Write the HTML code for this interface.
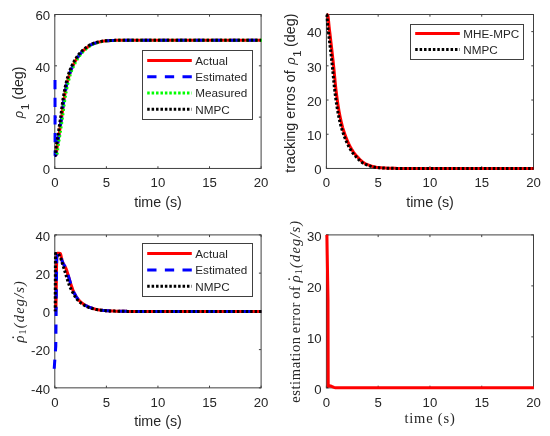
<!DOCTYPE html>
<html><head><meta charset="utf-8"><title>figure</title>
<style>html,body{margin:0;padding:0;background:#fff}svg{display:block}</style></head>
<body>
<svg width="550" height="436" viewBox="0 0 550 436" font-family='"Liberation Sans", sans-serif' fill="#262626">
<rect width="550" height="436" fill="#fff"/>
<path d="M54.8 168.45 v-2.2 M54.8 14.5 v2.2 M106.38 168.45 v-2.2 M106.38 14.5 v2.2 M157.95 168.45 v-2.2 M157.95 14.5 v2.2 M209.53 168.45 v-2.2 M209.53 14.5 v2.2 M261.1 168.45 v-2.2 M261.1 14.5 v2.2 M54.8 168.45 h2.2 M261.1 168.45 h-2.2 M54.8 117.13 h2.2 M261.1 117.13 h-2.2 M54.8 65.82 h2.2 M261.1 65.82 h-2.2 M54.8 14.5 h2.2 M261.1 14.5 h-2.2 " stroke="#404040" stroke-width="1" fill="none"/>
<rect x="54.8" y="14.5" width="206.3" height="153.95" fill="none" stroke="#404040" stroke-width="1"/>
<path d="M54.8 155.62 L54.9 155.61 L55.01 155.6 L55.11 155.57 L55.21 155.53 L55.32 155.48 L55.42 155.42 L55.52 155.35 L55.63 155.28 L55.73 155.19 L55.83 155.11 L55.93 154.95 L56.04 154.65 L56.14 154.24 L56.24 153.72 L56.35 153.11 L56.45 152.42 L56.55 151.68 L56.66 150.89 L56.76 150.07 L56.86 149.24 L56.97 148.41 L57.07 147.59 L57.17 146.79 L57.28 146.05 L57.38 145.36 L57.48 144.7 L57.59 144.05 L57.69 143.4 L57.79 142.74 L57.89 142.09 L58.1 140.78 L58.31 139.47 L58.51 138.16 L58.72 136.84 L58.93 135.52 L59.13 134.19 L59.34 132.85 L59.54 131.5 L59.75 130.15 L59.96 128.8 L60.16 127.44 L60.37 126.08 L60.58 124.72 L60.78 123.34 L60.99 121.94 L61.2 120.53 L61.4 119.1 L61.61 117.65 L61.81 116.14 L62.02 114.58 L62.23 112.97 L62.43 111.33 L62.64 109.67 L62.85 108.01 L63.05 106.36 L63.26 104.75 L63.46 103.18 L63.67 101.68 L63.88 100.25 L64.08 98.92 L64.29 97.64 L64.5 96.4 L64.7 95.17 L64.91 93.97 L65.11 92.8 L65.53 90.54 L65.94 88.4 L66.35 86.38 L66.77 84.5 L67.18 82.75 L67.59 81.11 L68 79.53 L68.42 78.02 L68.83 76.58 L69.24 75.21 L69.65 73.91 L70.07 72.68 L70.48 71.52 L70.89 70.44 L71.3 69.42 L71.72 68.44 L72.13 67.49 L72.54 66.57 L72.95 65.68 L73.37 64.81 L73.78 63.98 L74.19 63.16 L74.6 62.38 L75.02 61.62 L75.43 60.88 L75.84 60.17 L76.26 59.48 L76.67 58.81 L77.08 58.16 L77.49 57.54 L77.91 56.94 L78.32 56.35 L78.73 55.79 L79.14 55.24 L79.56 54.71 L79.97 54.19 L80.38 53.7 L80.79 53.21 L81.21 52.75 L81.62 52.3 L82.03 51.87 L82.44 51.45 L82.86 51.05 L83.27 50.67 L83.68 50.3 L84.09 49.95 L84.51 49.6 L84.92 49.26 L85.33 48.92 L85.75 48.58 L86.16 48.25 L86.57 47.92 L86.98 47.6 L87.4 47.28 L87.81 46.97 L88.22 46.67 L88.63 46.37 L89.05 46.09 L89.46 45.81 L89.87 45.54 L90.28 45.28 L90.7 45.03 L91.11 44.79 L91.52 44.57 L91.93 44.36 L92.35 44.15 L92.76 43.97 L93.17 43.8 L93.58 43.64 L94 43.49 L94.41 43.36 L94.82 43.23 L95.23 43.1 L95.65 42.97 L96.06 42.85 L96.47 42.72 L96.89 42.6 L97.3 42.49 L97.71 42.37 L98.12 42.26 L98.54 42.16 L98.95 42.05 L99.36 41.95 L99.77 41.85 L100.19 41.76 L100.6 41.66 L101.01 41.58 L101.42 41.49 L101.84 41.41 L102.25 41.34 L102.66 41.26 L103.07 41.19 L103.49 41.13 L103.9 41.07 L104.31 41.01 L104.72 40.96 L105.14 40.92 L105.55 40.87 L105.96 40.84 L106.38 40.8 L106.79 40.77 L107.2 40.75 L107.61 40.72 L108.03 40.7 L108.44 40.68 L108.85 40.65 L109.26 40.63 L109.68 40.61 L110.09 40.59 L110.5 40.57 L110.91 40.55 L111.33 40.53 L111.74 40.51 L112.15 40.49 L112.56 40.47 L112.98 40.45 L113.39 40.44 L113.8 40.42 L114.21 40.41 L114.63 40.39 L115.04 40.38 L115.45 40.37 L115.86 40.35 L116.28 40.34 L116.69 40.33 L117.1 40.32 L117.52 40.31 L117.93 40.3 L118.34 40.29 L118.75 40.28 L119.17 40.27 L119.58 40.26 L119.99 40.26 L120.4 40.25 L120.82 40.25 L121.23 40.24 L121.64 40.24 L122.05 40.23 L122.47 40.23 L122.88 40.23 L123.29 40.22 L123.7 40.22 L124.12 40.22 L124.53 40.21 L124.94 40.21 L125.35 40.21 L125.77 40.2 L126.18 40.2 L126.59 40.2 L127 40.2 L127.42 40.19 L127.83 40.19 L128.24 40.19 L128.66 40.19 L129.07 40.18 L129.48 40.18 L129.89 40.18 L130.31 40.18 L130.72 40.17 L131.13 40.17 L131.54 40.17 L131.96 40.17 L132.37 40.17 L132.78 40.17 L133.19 40.16 L133.61 40.16 L134.02 40.16 L134.43 40.16 L134.84 40.16 L135.26 40.16 L135.67 40.16 L136.08 40.16 L136.49 40.16 L136.91 40.16 L137.32 40.16 L157.95 40.16 L261.1 40.16" fill="none" stroke="#ff0000" stroke-width="3.0" stroke-linejoin="round"/>
<path d="M55 78.65 L55.1 155.11 L55.32 155.48 L55.42 155.42 L55.52 155.35 L55.63 155.28 L55.73 155.19 L55.83 155.11 L55.93 154.95 L56.04 154.65 L56.14 154.24 L56.24 153.72 L56.35 153.11 L56.45 152.42 L56.55 151.68 L56.66 150.89 L56.76 150.07 L56.86 149.24 L56.97 148.41 L57.07 147.59 L57.17 146.79 L57.28 146.05 L57.38 145.36 L57.48 144.7 L57.59 144.05 L57.69 143.4 L57.79 142.74 L57.89 142.09 L58.1 140.78 L58.31 139.47 L58.51 138.16 L58.72 136.84 L58.93 135.52 L59.13 134.19 L59.34 132.85 L59.54 131.5 L59.75 130.15 L59.96 128.8 L60.16 127.44 L60.37 126.08 L60.58 124.72 L60.78 123.34 L60.99 121.94 L61.2 120.53 L61.4 119.1 L61.61 117.65 L61.81 116.14 L62.02 114.58 L62.23 112.97 L62.43 111.33 L62.64 109.67 L62.85 108.01 L63.05 106.36 L63.26 104.75 L63.46 103.18 L63.67 101.68 L63.88 100.25 L64.08 98.92 L64.29 97.64 L64.5 96.4 L64.7 95.17 L64.91 93.97 L65.11 92.8 L65.53 90.54 L65.94 88.4 L66.35 86.38 L66.77 84.5 L67.18 82.75 L67.59 81.11 L68 79.53 L68.42 78.02 L68.83 76.58 L69.24 75.21 L69.65 73.91 L70.07 72.68 L70.48 71.52 L70.89 70.44 L71.3 69.42 L71.72 68.44 L72.13 67.49 L72.54 66.57 L72.95 65.68 L73.37 64.81 L73.78 63.98 L74.19 63.16 L74.6 62.38 L75.02 61.62 L75.43 60.88 L75.84 60.17 L76.26 59.48 L76.67 58.81 L77.08 58.16 L77.49 57.54 L77.91 56.94 L78.32 56.35 L78.73 55.79 L79.14 55.24 L79.56 54.71 L79.97 54.19 L80.38 53.7 L80.79 53.21 L81.21 52.75 L81.62 52.3 L82.03 51.87 L82.44 51.45 L82.86 51.05 L83.27 50.67 L83.68 50.3 L84.09 49.95 L84.51 49.6 L84.92 49.26 L85.33 48.92 L85.75 48.58 L86.16 48.25 L86.57 47.92 L86.98 47.6 L87.4 47.28 L87.81 46.97 L88.22 46.67 L88.63 46.37 L89.05 46.09 L89.46 45.81 L89.87 45.54 L90.28 45.28 L90.7 45.03 L91.11 44.79 L91.52 44.57 L91.93 44.36 L92.35 44.15 L92.76 43.97 L93.17 43.8 L93.58 43.64 L94 43.49 L94.41 43.36 L94.82 43.23 L95.23 43.1 L95.65 42.97 L96.06 42.85 L96.47 42.72 L96.89 42.6 L97.3 42.49 L97.71 42.37 L98.12 42.26 L98.54 42.16 L98.95 42.05 L99.36 41.95 L99.77 41.85 L100.19 41.76 L100.6 41.66 L101.01 41.58 L101.42 41.49 L101.84 41.41 L102.25 41.34 L102.66 41.26 L103.07 41.19 L103.49 41.13 L103.9 41.07 L104.31 41.01 L104.72 40.96 L105.14 40.92 L105.55 40.87 L105.96 40.84 L106.38 40.8 L106.79 40.77 L107.2 40.75 L107.61 40.72 L108.03 40.7 L108.44 40.68 L108.85 40.65 L109.26 40.63 L109.68 40.61 L110.09 40.59 L110.5 40.57 L110.91 40.55 L111.33 40.53 L111.74 40.51 L112.15 40.49 L112.56 40.47 L112.98 40.45 L113.39 40.44 L113.8 40.42 L114.21 40.41 L114.63 40.39 L115.04 40.38 L115.45 40.37 L115.86 40.35 L116.28 40.34 L116.69 40.33 L117.1 40.32 L117.52 40.31 L117.93 40.3 L118.34 40.29 L118.75 40.28 L119.17 40.27 L119.58 40.26 L119.99 40.26 L120.4 40.25 L120.82 40.25 L121.23 40.24 L121.64 40.24 L122.05 40.23 L122.47 40.23 L122.88 40.23 L123.29 40.22 L123.7 40.22 L124.12 40.22 L124.53 40.21 L124.94 40.21 L125.35 40.21 L125.77 40.2 L126.18 40.2 L126.59 40.2 L127 40.2 L127.42 40.19 L127.83 40.19 L128.24 40.19 L128.66 40.19 L129.07 40.18 L129.48 40.18 L129.89 40.18 L130.31 40.18 L130.72 40.17 L131.13 40.17 L131.54 40.17 L131.96 40.17 L132.37 40.17 L132.78 40.17 L133.19 40.16 L133.61 40.16 L134.02 40.16 L134.43 40.16 L134.84 40.16 L135.26 40.16 L135.67 40.16 L136.08 40.16 L136.49 40.16 L136.91 40.16 L137.32 40.16 L157.95 40.16 L261.1 40.16" fill="none" stroke="#0000ff" stroke-width="3.0" stroke-linejoin="round" stroke-dasharray="9.3 8.35" stroke-dashoffset="16.29"/>
<path d="M55.7 155.62 L55.8 155.61 L55.91 155.6 L56.01 155.57 L56.11 155.53 L56.22 155.48 L56.32 155.42 L56.42 155.35 L56.53 155.28 L56.63 155.19 L56.73 155.11 L56.83 154.95 L56.94 154.65 L57.04 154.24 L57.14 153.72 L57.25 153.11 L57.35 152.42 L57.45 151.68 L57.56 150.89 L57.66 150.07 L57.76 149.24 L57.87 148.41 L57.97 147.59 L58.07 146.79 L58.18 146.05 L58.28 145.36 L58.38 144.7 L58.49 144.05 L58.59 143.4 L58.69 142.74 L58.79 142.09 L59 140.78 L59.21 139.47 L59.41 138.16 L59.62 136.84 L59.83 135.52 L60.03 134.19 L60.24 132.85 L60.44 131.5 L60.65 130.15 L60.86 128.8 L61.06 127.44 L61.27 126.08 L61.48 124.72 L61.68 123.34 L61.89 121.94 L62.1 120.53 L62.3 119.1 L62.51 117.65 L62.71 116.14 L62.92 114.58 L63.13 112.97 L63.33 111.33 L63.54 109.67 L63.75 108.01 L63.95 106.36 L64.16 104.75 L64.36 103.18 L64.57 101.68 L64.78 100.25 L64.98 98.92 L65.19 97.64 L65.4 96.4 L65.6 95.17 L65.81 93.97 L66.02 92.8 L66.43 90.54 L66.84 88.4 L67.25 86.38 L67.67 84.5 L68.08 82.75 L68.49 81.11 L68.9 79.53 L69.32 78.02 L69.73 76.58 L70.14 75.21 L70.55 73.91 L70.97 72.68 L71.38 71.52 L71.79 70.44 L72.2 69.42 L72.62 68.44 L73.03 67.49 L73.44 66.57 L73.85 65.68 L74.27 64.81 L74.68 63.98 L75.09 63.16 L75.5 62.38 L75.92 61.62 L76.33 60.88 L76.74 60.17 L77.16 59.48 L77.57 58.81 L77.98 58.16 L78.39 57.54 L78.81 56.94 L79.22 56.35 L79.63 55.79 L80.04 55.24 L80.46 54.71 L80.87 54.19 L81.28 53.7 L81.69 53.21 L82.11 52.75 L82.52 52.3 L82.93 51.87 L83.34 51.45 L83.76 51.05 L84.17 50.67 L84.58 50.3 L84.99 49.95 L85.41 49.6 L85.82 49.26 L86.23 48.92 L86.65 48.58 L87.06 48.25 L87.47 47.92 L87.88 47.6 L88.3 47.28 L88.71 46.97 L89.12 46.67 L89.53 46.37 L89.95 46.09 L90.36 45.81 L90.77 45.54 L91.18 45.28 L91.6 45.03 L92.01 44.79 L92.42 44.57 L92.83 44.36 L93.25 44.15 L93.66 43.97 L94.07 43.8 L94.48 43.64 L94.9 43.49 L95.31 43.36 L95.72 43.23 L96.13 43.1 L96.55 42.97 L96.96 42.85 L97.37 42.72 L97.79 42.6 L98.2 42.49 L98.61 42.37 L99.02 42.26 L99.44 42.16 L99.85 42.05 L100.26 41.95 L100.67 41.85 L101.09 41.76 L101.5 41.66 L101.91 41.58 L102.32 41.49 L102.74 41.41 L103.15 41.34 L103.56 41.26 L103.97 41.19 L104.39 41.13 L104.8 41.07 L105.21 41.01 L105.62 40.96 L106.04 40.92 L106.45 40.87 L106.86 40.84 L107.28 40.8 L107.69 40.77 L108.1 40.75 L108.51 40.72 L108.93 40.7 L109.34 40.68 L109.75 40.65 L110.16 40.63 L110.58 40.61 L110.99 40.59 L111.4 40.57 L111.81 40.55 L112.23 40.53 L112.64 40.51 L113.05 40.49 L113.46 40.47 L113.88 40.45 L114.29 40.44 L114.7 40.42 L115.11 40.41 L115.53 40.39 L115.94 40.38 L116.35 40.37 L116.76 40.35 L117.18 40.34 L117.59 40.33 L118 40.32 L118.42 40.31 L118.83 40.3 L119.24 40.29 L119.65 40.28 L120.07 40.27 L120.48 40.26 L120.89 40.26 L121.3 40.25 L121.72 40.25 L122.13 40.24 L122.54 40.24 L122.95 40.23 L123.37 40.23 L123.78 40.23 L124.19 40.22 L124.6 40.22 L125.02 40.22 L125.43 40.21 L125.84 40.21 L126.25 40.21 L126.67 40.2 L127.08 40.2 L127.49 40.2 L127.91 40.2 L128.32 40.19 L128.73 40.19 L129.14 40.19 L129.56 40.19 L129.97 40.18 L130.38 40.18 L130.79 40.18 L131.21 40.18 L131.62 40.17 L132.03 40.17 L132.44 40.17 L132.86 40.17 L133.27 40.17 L133.68 40.17 L134.09 40.16 L134.51 40.16 L134.92 40.16 L135.33 40.16 L135.74 40.16 L136.16 40.16 L136.57 40.16 L136.98 40.16 L137.39 40.16 L137.81 40.16 L138.22 40.16 L158.85 40.16 L262 40.16" fill="none" stroke="#00ff00" stroke-width="3.0" stroke-linejoin="round" stroke-dasharray="1.9 2.52" stroke-dashoffset="2.56"/>
<path d="M54.8 155.62 L54.9 155.6 L55.01 155.53 L55.11 155.42 L55.21 155.28 L55.32 155.11 L55.42 154.65 L55.52 153.72 L55.63 152.42 L55.73 150.89 L55.83 149.24 L55.93 148.41 L56.04 147.59 L56.14 146.79 L56.24 146.05 L56.35 145.36 L56.45 144.7 L56.55 144.05 L56.66 143.4 L56.76 142.74 L56.86 142.09 L56.97 141.43 L57.07 140.78 L57.17 140.13 L57.28 139.47 L57.38 138.81 L57.48 138.16 L57.59 137.5 L57.69 136.84 L57.79 136.18 L57.89 135.52 L58.1 134.19 L58.31 132.85 L58.51 131.5 L58.72 130.15 L58.93 128.8 L59.13 127.44 L59.34 126.08 L59.54 124.72 L59.75 123.34 L59.96 121.94 L60.16 120.53 L60.37 119.1 L60.58 117.65 L60.78 116.14 L60.99 114.58 L61.2 112.97 L61.4 111.33 L61.61 109.67 L61.81 108.01 L62.02 106.36 L62.23 104.75 L62.43 103.18 L62.64 101.68 L62.85 100.25 L63.05 98.92 L63.26 97.64 L63.46 96.4 L63.67 95.17 L63.88 93.97 L64.08 92.8 L64.29 91.66 L64.5 90.54 L64.7 89.46 L64.91 88.4 L65.11 87.38 L65.53 85.42 L65.94 83.61 L66.35 81.92 L66.77 80.31 L67.18 78.77 L67.59 77.29 L68 75.89 L68.42 74.55 L68.83 73.28 L69.24 72.09 L69.65 70.97 L70.07 69.92 L70.48 68.93 L70.89 67.96 L71.3 67.03 L71.72 66.12 L72.13 65.24 L72.54 64.39 L72.95 63.57 L73.37 62.77 L73.78 61.99 L74.19 61.25 L74.6 60.52 L75.02 59.82 L75.43 59.14 L75.84 58.48 L76.26 57.85 L76.67 57.23 L77.08 56.64 L77.49 56.07 L77.91 55.51 L78.32 54.97 L78.73 54.45 L79.14 53.94 L79.56 53.45 L79.97 52.98 L80.38 52.52 L80.79 52.08 L81.21 51.66 L81.62 51.25 L82.03 50.86 L82.44 50.48 L82.86 50.12 L83.27 49.78 L83.68 49.43 L84.09 49.09 L84.51 48.75 L84.92 48.42 L85.33 48.09 L85.75 47.76 L86.16 47.44 L86.57 47.13 L86.98 46.82 L87.4 46.52 L87.81 46.23 L88.22 45.95 L88.63 45.67 L89.05 45.41 L89.46 45.15 L89.87 44.91 L90.28 44.68 L90.7 44.46 L91.11 44.25 L91.52 44.06 L91.93 43.88 L92.35 43.71 L92.76 43.56 L93.17 43.43 L93.58 43.29 L94 43.16 L94.41 43.03 L94.82 42.91 L95.23 42.78 L95.65 42.66 L96.06 42.55 L96.47 42.43 L96.89 42.32 L97.3 42.21 L97.71 42.1 L98.12 42 L98.54 41.9 L98.95 41.8 L99.36 41.71 L99.77 41.62 L100.19 41.53 L100.6 41.45 L101.01 41.37 L101.42 41.3 L101.84 41.23 L102.25 41.16 L102.66 41.1 L103.07 41.04 L103.49 40.99 L103.9 40.94 L104.31 40.89 L104.72 40.85 L105.14 40.82 L105.55 40.79 L105.96 40.76 L106.38 40.74 L106.79 40.71 L107.2 40.69 L107.61 40.66 L108.03 40.64 L108.44 40.62 L108.85 40.6 L109.26 40.58 L109.68 40.56 L110.09 40.54 L110.5 40.52 L110.91 40.5 L111.33 40.48 L111.74 40.46 L112.15 40.45 L112.56 40.43 L112.98 40.41 L113.39 40.4 L113.8 40.39 L114.21 40.37 L114.63 40.36 L115.04 40.35 L115.45 40.33 L115.86 40.32 L116.28 40.31 L116.69 40.3 L117.1 40.29 L117.52 40.28 L117.93 40.28 L118.34 40.27 L118.75 40.26 L119.17 40.25 L119.58 40.25 L119.99 40.24 L120.4 40.24 L120.82 40.24 L121.23 40.23 L121.64 40.23 L122.05 40.22 L122.47 40.22 L122.88 40.22 L123.29 40.21 L123.7 40.21 L124.12 40.21 L124.53 40.21 L124.94 40.2 L125.35 40.2 L125.77 40.2 L126.18 40.19 L126.59 40.19 L127 40.19 L127.42 40.19 L127.83 40.18 L128.24 40.18 L128.66 40.18 L129.07 40.18 L129.48 40.18 L129.89 40.17 L130.31 40.17 L130.72 40.17 L131.13 40.17 L131.54 40.17 L131.96 40.17 L132.37 40.16 L132.78 40.16 L133.19 40.16 L133.61 40.16 L134.02 40.16 L134.43 40.16 L134.84 40.16 L135.26 40.16 L135.67 40.16 L136.08 40.16 L136.49 40.16 L136.91 40.16 L137.32 40.16 L157.95 40.16 L261.1 40.16" fill="none" stroke="#000" stroke-width="3.0" stroke-linejoin="round" stroke-dasharray="2.5 1.92" stroke-dashoffset="1.44"/>
<text x="54.8" y="187.15" text-anchor="middle" font-size="13.2">0</text>
<text x="106.38" y="187.15" text-anchor="middle" font-size="13.2">5</text>
<text x="157.95" y="187.15" text-anchor="middle" font-size="13.2">10</text>
<text x="209.53" y="187.15" text-anchor="middle" font-size="13.2">15</text>
<text x="261.1" y="187.15" text-anchor="middle" font-size="13.2">20</text>
<text x="50.1" y="174.15" text-anchor="end" font-size="13.2">0</text>
<text x="50.1" y="122.83" text-anchor="end" font-size="13.2">20</text>
<text x="50.1" y="71.52" text-anchor="end" font-size="13.2">40</text>
<text x="50.1" y="20.2" text-anchor="end" font-size="13.2">60</text>
<rect x="142.5" y="50.5" width="110.0" height="69.0" fill="#fff" stroke="#404040" stroke-width="1"/>
<path d="M147.2 60.4 H191.8" stroke="#ff0000" stroke-width="3.0" fill="none"/>
<text x="195.3" y="64.6" font-size="11.7">Actual</text>
<path d="M147.2 76.7 H191.8" stroke="#0000ff" stroke-width="3.0" fill="none" stroke-dasharray="9.3 8.35"/>
<text x="195.3" y="80.9" font-size="11.7">Estimated</text>
<path d="M147.2 93.1 H191.8" stroke="#00ff00" stroke-width="3.0" fill="none" stroke-dasharray="2.5 1.92"/>
<text x="195.3" y="97.3" font-size="11.7">Measured</text>
<path d="M147.2 109.3 H191.8" stroke="#000" stroke-width="3.0" fill="none" stroke-dasharray="2.5 1.92"/>
<text x="195.3" y="113.5" font-size="11.7">NMPC</text>
<g transform="translate(23.3 117.9) rotate(-90)" font-size="14.3"><text><tspan x="-0.4" font-style="italic" font-size="13">ρ</tspan><tspan x="18.1">(deg)</tspan></text><text transform="translate(7.9 5.6) scale(0.8)">1</text></g>
<text x="158" y="206.5" text-anchor="middle" font-size="14.3">time (s)</text>
<path d="M326.4 168.45 v-2.2 M326.4 14.5 v2.2 M378.17 168.45 v-2.2 M378.17 14.5 v2.2 M429.95 168.45 v-2.2 M429.95 14.5 v2.2 M481.73 168.45 v-2.2 M481.73 14.5 v2.2 M533.5 168.45 v-2.2 M533.5 14.5 v2.2 M326.4 168.45 h2.2 M533.5 168.45 h-2.2 M326.4 134.24 h2.2 M533.5 134.24 h-2.2 M326.4 100.03 h2.2 M533.5 100.03 h-2.2 M326.4 65.82 h2.2 M533.5 65.82 h-2.2 M326.4 31.61 h2.2 M533.5 31.61 h-2.2 " stroke="#404040" stroke-width="1" fill="none"/>
<rect x="326.4" y="14.5" width="207.10000000000002" height="153.95" fill="none" stroke="#404040" stroke-width="1"/>
<path d="M326.7 14.5 L326.8 14.51 L326.91 14.53 L327.01 14.57 L327.11 14.63 L327.22 14.69 L327.32 14.77 L327.42 14.86 L327.53 14.96 L327.63 15.07 L327.74 15.18 L327.84 15.4 L327.94 15.79 L328.05 16.35 L328.15 17.04 L328.25 17.85 L328.36 18.76 L328.46 19.75 L328.56 20.8 L328.67 21.9 L328.77 23.01 L328.87 24.12 L328.98 25.21 L329.08 26.27 L329.19 27.27 L329.29 28.18 L329.39 29.06 L329.5 29.93 L329.6 30.8 L329.7 31.67 L329.81 32.54 L330.01 34.29 L330.22 36.03 L330.43 37.78 L330.63 39.54 L330.84 41.31 L331.05 43.08 L331.26 44.86 L331.46 46.66 L331.67 48.46 L331.88 50.26 L332.08 52.07 L332.29 53.88 L332.5 55.71 L332.71 57.55 L332.91 59.41 L333.12 61.29 L333.33 63.19 L333.53 65.13 L333.74 67.13 L333.95 69.22 L334.16 71.37 L334.36 73.56 L334.57 75.77 L334.78 77.98 L334.98 80.17 L335.19 82.33 L335.4 84.41 L335.61 86.42 L335.81 88.33 L336.02 90.11 L336.23 91.8 L336.43 93.47 L336.64 95.1 L336.85 96.7 L337.06 98.26 L337.47 101.27 L337.88 104.12 L338.3 106.81 L338.71 109.33 L339.13 111.66 L339.54 113.85 L339.95 115.95 L340.37 117.97 L340.78 119.89 L341.2 121.72 L341.61 123.45 L342.03 125.09 L342.44 126.63 L342.85 128.08 L343.27 129.43 L343.68 130.74 L344.1 132 L344.51 133.23 L344.92 134.42 L345.34 135.58 L345.75 136.69 L346.17 137.78 L346.58 138.82 L347 139.84 L347.41 140.82 L347.82 141.77 L348.24 142.69 L348.65 143.58 L349.07 144.44 L349.48 145.28 L349.9 146.08 L350.31 146.86 L350.72 147.61 L351.14 148.34 L351.55 149.05 L351.97 149.74 L352.38 150.4 L352.79 151.04 L353.21 151.66 L353.62 152.26 L354.04 152.84 L354.45 153.39 L354.87 153.92 L355.28 154.44 L355.69 154.93 L356.11 155.39 L356.52 155.86 L356.94 156.31 L357.35 156.77 L357.76 157.22 L358.18 157.66 L358.59 158.1 L359.01 158.53 L359.42 158.95 L359.84 159.36 L360.25 159.77 L360.66 160.16 L361.08 160.55 L361.49 160.92 L361.91 161.28 L362.32 161.62 L362.74 161.95 L363.15 162.27 L363.56 162.57 L363.98 162.85 L364.39 163.12 L364.81 163.37 L365.22 163.6 L365.63 163.81 L366.05 164 L366.46 164.18 L366.88 164.36 L367.29 164.53 L367.71 164.7 L368.12 164.87 L368.53 165.03 L368.95 165.19 L369.36 165.34 L369.78 165.5 L370.19 165.64 L370.61 165.79 L371.02 165.93 L371.43 166.06 L371.85 166.19 L372.26 166.32 L372.68 166.44 L373.09 166.56 L373.5 166.67 L373.92 166.78 L374.33 166.88 L374.75 166.98 L375.16 167.07 L375.58 167.15 L375.99 167.23 L376.4 167.31 L376.82 167.38 L377.23 167.44 L377.65 167.5 L378.06 167.55 L378.47 167.59 L378.89 167.63 L379.3 167.66 L379.72 167.7 L380.13 167.73 L380.55 167.76 L380.96 167.79 L381.37 167.82 L381.79 167.85 L382.2 167.88 L382.62 167.91 L383.03 167.93 L383.45 167.96 L383.86 167.98 L384.27 168.01 L384.69 168.03 L385.1 168.05 L385.52 168.08 L385.93 168.1 L386.34 168.12 L386.76 168.14 L387.17 168.16 L387.59 168.17 L388 168.19 L388.42 168.21 L388.83 168.22 L389.24 168.24 L389.66 168.25 L390.07 168.26 L390.49 168.28 L390.9 168.29 L391.32 168.3 L391.73 168.31 L392.14 168.32 L392.56 168.33 L392.97 168.33 L393.39 168.34 L393.8 168.34 L394.21 168.35 L394.63 168.35 L395.04 168.36 L395.46 168.36 L395.87 168.37 L396.29 168.37 L396.7 168.38 L397.11 168.38 L397.53 168.39 L397.94 168.39 L398.36 168.39 L398.77 168.4 L399.19 168.4 L399.6 168.4 L400.01 168.41 L400.43 168.41 L400.84 168.41 L401.26 168.42 L401.67 168.42 L402.08 168.42 L402.5 168.43 L402.91 168.43 L403.33 168.43 L403.74 168.43 L404.16 168.44 L404.57 168.44 L404.98 168.44 L405.4 168.44 L405.81 168.44 L406.23 168.44 L406.64 168.45 L407.05 168.45 L407.47 168.45 L407.88 168.45 L408.3 168.45 L408.71 168.45 L409.13 168.45 L409.54 168.45 L430.25 168.45 L533.8 168.45" fill="none" stroke="#ff0000" stroke-width="3.0" stroke-linejoin="round"/>
<path d="M326.4 14.5 L326.5 14.53 L326.61 14.63 L326.71 14.77 L326.81 14.96 L326.92 15.18 L327.02 15.79 L327.12 17.04 L327.23 18.76 L327.33 20.8 L327.44 23.01 L327.54 24.12 L327.64 25.21 L327.75 26.27 L327.85 27.27 L327.95 28.18 L328.06 29.06 L328.16 29.93 L328.26 30.8 L328.37 31.67 L328.47 32.54 L328.57 33.42 L328.68 34.29 L328.78 35.16 L328.89 36.03 L328.99 36.91 L329.09 37.78 L329.2 38.66 L329.3 39.54 L329.4 40.42 L329.51 41.31 L329.71 43.08 L329.92 44.86 L330.13 46.66 L330.33 48.46 L330.54 50.26 L330.75 52.07 L330.96 53.88 L331.16 55.71 L331.37 57.55 L331.58 59.41 L331.78 61.29 L331.99 63.19 L332.2 65.13 L332.41 67.13 L332.61 69.22 L332.82 71.37 L333.03 73.56 L333.23 75.77 L333.44 77.98 L333.65 80.17 L333.86 82.33 L334.06 84.41 L334.27 86.42 L334.48 88.33 L334.68 90.11 L334.89 91.8 L335.1 93.47 L335.31 95.1 L335.51 96.7 L335.72 98.26 L335.93 99.78 L336.13 101.27 L336.34 102.72 L336.55 104.12 L336.75 105.49 L337.17 108.09 L337.58 110.52 L338 112.77 L338.41 114.91 L338.83 116.97 L339.24 118.94 L339.65 120.81 L340.07 122.6 L340.48 124.28 L340.9 125.88 L341.31 127.37 L341.73 128.77 L342.14 130.09 L342.55 131.38 L342.97 132.62 L343.38 133.83 L343.8 135 L344.21 136.14 L344.62 137.24 L345.04 138.3 L345.45 139.34 L345.87 140.33 L346.28 141.3 L346.7 142.24 L347.11 143.14 L347.52 144.02 L347.94 144.86 L348.35 145.68 L348.77 146.47 L349.18 147.24 L349.6 147.98 L350.01 148.7 L350.42 149.4 L350.84 150.07 L351.25 150.72 L351.67 151.36 L352.08 151.96 L352.49 152.55 L352.91 153.12 L353.32 153.66 L353.74 154.18 L354.15 154.68 L354.57 155.16 L354.98 155.63 L355.39 156.09 L355.81 156.54 L356.22 156.99 L356.64 157.44 L357.05 157.88 L357.46 158.31 L357.88 158.74 L358.29 159.16 L358.71 159.57 L359.12 159.97 L359.54 160.36 L359.95 160.73 L360.36 161.1 L360.78 161.45 L361.19 161.79 L361.61 162.11 L362.02 162.42 L362.44 162.71 L362.85 162.99 L363.26 163.25 L363.68 163.49 L364.09 163.71 L364.51 163.91 L364.92 164.09 L365.33 164.27 L365.75 164.44 L366.16 164.62 L366.58 164.78 L366.99 164.95 L367.41 165.11 L367.82 165.27 L368.23 165.42 L368.65 165.57 L369.06 165.72 L369.48 165.86 L369.89 166 L370.31 166.13 L370.72 166.26 L371.13 166.38 L371.55 166.5 L371.96 166.62 L372.38 166.72 L372.79 166.83 L373.2 166.93 L373.62 167.02 L374.03 167.11 L374.45 167.19 L374.86 167.27 L375.28 167.34 L375.69 167.41 L376.1 167.47 L376.52 167.52 L376.93 167.57 L377.35 167.61 L377.76 167.65 L378.17 167.68 L378.59 167.71 L379 167.74 L379.42 167.78 L379.83 167.81 L380.25 167.84 L380.66 167.86 L381.07 167.89 L381.49 167.92 L381.9 167.95 L382.32 167.97 L382.73 168 L383.15 168.02 L383.56 168.04 L383.97 168.07 L384.39 168.09 L384.8 168.11 L385.22 168.13 L385.63 168.15 L386.04 168.17 L386.46 168.18 L386.87 168.2 L387.29 168.22 L387.7 168.23 L388.12 168.24 L388.53 168.26 L388.94 168.27 L389.36 168.28 L389.77 168.29 L390.19 168.3 L390.6 168.31 L391.02 168.32 L391.43 168.33 L391.84 168.34 L392.26 168.34 L392.67 168.35 L393.09 168.35 L393.5 168.36 L393.91 168.36 L394.33 168.37 L394.74 168.37 L395.16 168.37 L395.57 168.38 L395.99 168.38 L396.4 168.39 L396.81 168.39 L397.23 168.4 L397.64 168.4 L398.06 168.4 L398.47 168.41 L398.88 168.41 L399.3 168.41 L399.71 168.42 L400.13 168.42 L400.54 168.42 L400.96 168.42 L401.37 168.43 L401.78 168.43 L402.2 168.43 L402.61 168.43 L403.03 168.44 L403.44 168.44 L403.86 168.44 L404.27 168.44 L404.68 168.44 L405.1 168.45 L405.51 168.45 L405.93 168.45 L406.34 168.45 L406.75 168.45 L407.17 168.45 L407.58 168.45 L408 168.45 L408.41 168.45 L408.83 168.45 L409.24 168.45 L429.95 168.45 L533.5 168.45" fill="none" stroke="#000" stroke-width="3.0" stroke-linejoin="round" stroke-dasharray="2.5 1.92"/>
<text x="326.4" y="187.15" text-anchor="middle" font-size="13.2">0</text>
<text x="378.17" y="187.15" text-anchor="middle" font-size="13.2">5</text>
<text x="429.95" y="187.15" text-anchor="middle" font-size="13.2">10</text>
<text x="481.73" y="187.15" text-anchor="middle" font-size="13.2">15</text>
<text x="533.5" y="187.15" text-anchor="middle" font-size="13.2">20</text>
<text x="321.7" y="174.15" text-anchor="end" font-size="13.2">0</text>
<text x="321.7" y="139.94" text-anchor="end" font-size="13.2">10</text>
<text x="321.7" y="105.73" text-anchor="end" font-size="13.2">20</text>
<text x="321.7" y="71.52" text-anchor="end" font-size="13.2">30</text>
<text x="321.7" y="37.31" text-anchor="end" font-size="13.2">40</text>
<rect x="410.5" y="24.5" width="113.0" height="35.0" fill="#fff" stroke="#404040" stroke-width="1"/>
<path d="M415.2 33.6 H459.8" stroke="#ff0000" stroke-width="3.0" fill="none"/>
<text x="463.3" y="37.8" font-size="11.7">MHE-MPC</text>
<path d="M415.2 49.6 H459.8" stroke="#000" stroke-width="3.0" fill="none" stroke-dasharray="2.5 1.92"/>
<text x="463.3" y="53.8" font-size="11.7">NMPC</text>
<g transform="translate(294.9 172.8) rotate(-90)" font-size="14.3"><text>tracking erros of<tspan x="108.1" font-style="italic" font-size="13">ρ</tspan><tspan x="125.9">(deg)</tspan></text><text transform="translate(116 5.6) scale(0.8)">1</text></g>
<text x="430" y="206.5" text-anchor="middle" font-size="14.3">time (s)</text>
<path d="M54.8 387.85 v-2.2 M54.8 234.9 v2.2 M106.38 387.85 v-2.2 M106.38 234.9 v2.2 M157.95 387.85 v-2.2 M157.95 234.9 v2.2 M209.53 387.85 v-2.2 M209.53 234.9 v2.2 M261.1 387.85 v-2.2 M261.1 234.9 v2.2 M54.8 387.85 h2.2 M261.1 387.85 h-2.2 M54.8 349.61 h2.2 M261.1 349.61 h-2.2 M54.8 311.38 h2.2 M261.1 311.38 h-2.2 M54.8 273.14 h2.2 M261.1 273.14 h-2.2 M54.8 234.9 h2.2 M261.1 234.9 h-2.2 " stroke="#404040" stroke-width="1" fill="none"/>
<rect x="54.8" y="234.9" width="206.3" height="152.95000000000002" fill="none" stroke="#404040" stroke-width="1"/>
<path d="M54.8 311.38 L54.9 311.34 L55.01 311.25 L55.11 311.1 L55.21 310.89 L55.32 310.62 L55.42 310.3 L55.52 309.93 L55.63 309.5 L55.73 309.03 L55.83 308.51 L55.93 306.6 L56.04 302.37 L56.14 296.4 L56.24 289.26 L56.35 281.56 L56.45 273.87 L56.55 266.78 L56.66 260.88 L56.76 256.75 L56.86 254.97 L56.97 254.59 L57.07 254.26 L57.17 253.96 L57.28 253.71 L57.38 253.52 L57.48 253.37 L57.59 253.28 L57.69 253.25 L57.79 253.25 L57.89 253.26 L58.1 253.26 L58.31 253.27 L58.51 253.28 L58.72 253.29 L58.93 253.3 L59.13 253.32 L59.34 253.34 L59.54 253.36 L59.75 253.39 L59.96 253.41 L60.16 253.45 L60.37 253.63 L60.58 254.09 L60.78 254.77 L60.99 255.62 L61.2 256.58 L61.4 257.59 L61.61 258.61 L61.81 259.58 L62.02 260.44 L62.23 261.14 L62.43 261.68 L62.64 262.19 L62.85 262.65 L63.05 263.09 L63.26 263.5 L63.46 263.89 L63.67 264.27 L63.88 264.63 L64.08 264.98 L64.29 265.32 L64.5 265.67 L64.7 266.02 L64.91 266.37 L65.11 266.74 L65.53 267.52 L65.94 268.39 L66.35 269.39 L66.77 270.56 L67.18 271.87 L67.59 273.26 L68 274.7 L68.42 276.12 L68.83 277.49 L69.24 278.85 L69.65 280.23 L70.07 281.6 L70.48 282.94 L70.89 284.23 L71.3 285.44 L71.72 286.64 L72.13 287.82 L72.54 288.97 L72.95 290.08 L73.37 291.13 L73.78 292.11 L74.19 293 L74.6 293.82 L75.02 294.59 L75.43 295.33 L75.84 296.04 L76.26 296.71 L76.67 297.35 L77.08 297.95 L77.49 298.51 L77.91 299.04 L78.32 299.52 L78.73 299.98 L79.14 300.41 L79.56 300.83 L79.97 301.23 L80.38 301.61 L80.79 301.98 L81.21 302.33 L81.62 302.67 L82.03 302.99 L82.44 303.3 L82.86 303.6 L83.27 303.89 L83.68 304.17 L84.09 304.43 L84.51 304.7 L84.92 304.95 L85.33 305.2 L85.75 305.44 L86.16 305.68 L86.57 305.91 L86.98 306.13 L87.4 306.34 L87.81 306.55 L88.22 306.74 L88.63 306.93 L89.05 307.11 L89.46 307.28 L89.87 307.44 L90.28 307.59 L90.7 307.73 L91.11 307.88 L91.52 308.02 L91.93 308.16 L92.35 308.29 L92.76 308.42 L93.17 308.55 L93.58 308.68 L94 308.8 L94.41 308.92 L94.82 309.04 L95.23 309.15 L95.65 309.26 L96.06 309.36 L96.47 309.46 L96.89 309.55 L97.3 309.64 L97.71 309.72 L98.12 309.8 L98.54 309.87 L98.95 309.94 L99.36 310 L99.77 310.05 L100.19 310.1 L100.6 310.15 L101.01 310.2 L101.42 310.24 L101.84 310.29 L102.25 310.33 L102.66 310.38 L103.07 310.42 L103.49 310.46 L103.9 310.5 L104.31 310.53 L104.72 310.57 L105.14 310.61 L105.55 310.64 L105.96 310.67 L106.38 310.7 L106.79 310.73 L107.2 310.76 L107.61 310.79 L108.03 310.82 L108.44 310.84 L108.85 310.86 L109.26 310.89 L109.68 310.91 L110.09 310.93 L110.5 310.95 L110.91 310.97 L111.33 310.98 L111.74 311 L112.15 311.02 L112.56 311.03 L112.98 311.05 L113.39 311.06 L113.8 311.08 L114.21 311.09 L114.63 311.11 L115.04 311.12 L115.45 311.14 L115.86 311.15 L116.28 311.17 L116.69 311.18 L117.1 311.19 L117.52 311.21 L117.93 311.22 L118.34 311.23 L118.75 311.24 L119.17 311.26 L119.58 311.27 L119.99 311.28 L120.4 311.29 L120.82 311.3 L121.23 311.31 L121.64 311.32 L122.05 311.32 L122.47 311.33 L122.88 311.34 L123.29 311.35 L123.7 311.35 L124.12 311.36 L124.53 311.36 L124.94 311.37 L125.35 311.37 L125.77 311.37 L126.18 311.37 L126.59 311.37 L127 311.38 L127.42 311.38 L127.83 311.38 L128.24 311.38 L128.66 311.38 L129.07 311.38 L129.48 311.38 L129.89 311.38 L130.31 311.38 L130.72 311.38 L131.13 311.38 L131.54 311.38 L131.96 311.38 L132.37 311.38 L132.78 311.38 L133.19 311.38 L133.61 311.38 L134.02 311.38 L134.43 311.38 L134.84 311.38 L135.26 311.38 L135.67 311.38 L136.08 311.38 L136.49 311.38 L136.91 311.38 L137.32 311.38 L157.95 311.38 L261.1 311.38" fill="none" stroke="#ff0000" stroke-width="3.0" stroke-linejoin="round"/>
<path d="M54.2 368.73 L55.8 345.79 L56.7 257.84 L57.89 253.26 L58.1 253.26 L58.31 253.27 L58.51 253.28 L58.72 253.29 L58.93 253.3 L59.13 253.32 L59.34 253.34 L59.54 253.36 L59.75 253.39 L59.96 253.41 L60.16 253.45 L60.37 253.63 L60.58 254.09 L60.78 254.77 L60.99 255.62 L61.2 256.58 L61.4 257.59 L61.61 258.61 L61.81 259.58 L62.02 260.44 L62.23 261.14 L62.43 261.68 L62.64 262.19 L62.85 262.65 L63.05 263.09 L63.26 263.5 L63.46 263.89 L63.67 264.27 L63.88 264.63 L64.08 264.98 L64.29 265.32 L64.5 265.67 L64.7 266.02 L64.91 266.37 L65.11 266.74 L65.53 267.52 L65.94 268.39 L66.35 269.39 L66.77 270.56 L67.18 271.87 L67.59 273.26 L68 274.7 L68.42 276.12 L68.83 277.49 L69.24 278.85 L69.65 280.23 L70.07 281.6 L70.48 282.94 L70.89 284.23 L71.3 285.44 L71.72 286.64 L72.13 287.82 L72.54 288.97 L72.95 290.08 L73.37 291.13 L73.78 292.11 L74.19 293 L74.6 293.82 L75.02 294.59 L75.43 295.33 L75.84 296.04 L76.26 296.71 L76.67 297.35 L77.08 297.95 L77.49 298.51 L77.91 299.04 L78.32 299.52 L78.73 299.98 L79.14 300.41 L79.56 300.83 L79.97 301.23 L80.38 301.61 L80.79 301.98 L81.21 302.33 L81.62 302.67 L82.03 302.99 L82.44 303.3 L82.86 303.6 L83.27 303.89 L83.68 304.17 L84.09 304.43 L84.51 304.7 L84.92 304.95 L85.33 305.2 L85.75 305.44 L86.16 305.68 L86.57 305.91 L86.98 306.13 L87.4 306.34 L87.81 306.55 L88.22 306.74 L88.63 306.93 L89.05 307.11 L89.46 307.28 L89.87 307.44 L90.28 307.59 L90.7 307.73 L91.11 307.88 L91.52 308.02 L91.93 308.16 L92.35 308.29 L92.76 308.42 L93.17 308.55 L93.58 308.68 L94 308.8 L94.41 308.92 L94.82 309.04 L95.23 309.15 L95.65 309.26 L96.06 309.36 L96.47 309.46 L96.89 309.55 L97.3 309.64 L97.71 309.72 L98.12 309.8 L98.54 309.87 L98.95 309.94 L99.36 310 L99.77 310.05 L100.19 310.1 L100.6 310.15 L101.01 310.2 L101.42 310.24 L101.84 310.29 L102.25 310.33 L102.66 310.38 L103.07 310.42 L103.49 310.46 L103.9 310.5 L104.31 310.53 L104.72 310.57 L105.14 310.61 L105.55 310.64 L105.96 310.67 L106.38 310.7 L106.79 310.73 L107.2 310.76 L107.61 310.79 L108.03 310.82 L108.44 310.84 L108.85 310.86 L109.26 310.89 L109.68 310.91 L110.09 310.93 L110.5 310.95 L110.91 310.97 L111.33 310.98 L111.74 311 L112.15 311.02 L112.56 311.03 L112.98 311.05 L113.39 311.06 L113.8 311.08 L114.21 311.09 L114.63 311.11 L115.04 311.12 L115.45 311.14 L115.86 311.15 L116.28 311.17 L116.69 311.18 L117.1 311.19 L117.52 311.21 L117.93 311.22 L118.34 311.23 L118.75 311.24 L119.17 311.26 L119.58 311.27 L119.99 311.28 L120.4 311.29 L120.82 311.3 L121.23 311.31 L121.64 311.32 L122.05 311.32 L122.47 311.33 L122.88 311.34 L123.29 311.35 L123.7 311.35 L124.12 311.36 L124.53 311.36 L124.94 311.37 L125.35 311.37 L125.77 311.37 L126.18 311.37 L126.59 311.37 L127 311.38 L127.42 311.38 L127.83 311.38 L128.24 311.38 L128.66 311.38 L129.07 311.38 L129.48 311.38 L129.89 311.38 L130.31 311.38 L130.72 311.38 L131.13 311.38 L131.54 311.38 L131.96 311.38 L132.37 311.38 L132.78 311.38 L133.19 311.38 L133.61 311.38 L134.02 311.38 L134.43 311.38 L134.84 311.38 L135.26 311.38 L135.67 311.38 L136.08 311.38 L136.49 311.38 L136.91 311.38 L137.32 311.38 L157.95 311.38 L261.1 311.38" fill="none" stroke="#0000ff" stroke-width="3.0" stroke-linejoin="round" stroke-dasharray="9.3 8.35" stroke-dashoffset="0.27"/>
<path d="M55.2 311.38 L55.3 286.74 L55.41 263.66 L55.51 253.45 L55.61 253.45 L55.72 253.45 L55.82 253.45 L55.92 253.45 L56.03 253.45 L56.13 253.45 L56.23 253.45 L56.33 253.45 L56.44 253.45 L56.54 253.45 L56.64 253.45 L56.75 253.45 L56.85 253.45 L56.95 253.45 L57.06 253.45 L57.16 253.45 L57.26 253.45 L57.37 253.45 L57.47 253.45 L57.57 253.45 L57.68 253.45 L57.78 253.45 L57.88 253.46 L57.99 253.49 L58.09 253.54 L58.19 253.61 L58.29 253.7 L58.5 253.93 L58.71 254.21 L58.91 254.54 L59.12 254.92 L59.33 255.32 L59.53 255.74 L59.74 256.18 L59.94 256.62 L60.15 257.06 L60.36 257.49 L60.56 257.97 L60.77 258.5 L60.98 259.08 L61.18 259.7 L61.39 260.34 L61.6 261.01 L61.8 261.69 L62.01 262.37 L62.21 263.05 L62.42 263.72 L62.63 264.37 L62.83 265.01 L63.04 265.65 L63.25 266.29 L63.45 266.93 L63.66 267.58 L63.86 268.22 L64.07 268.87 L64.28 269.53 L64.48 270.18 L64.69 270.84 L64.9 271.51 L65.1 272.17 L65.31 272.84 L65.52 273.53 L65.93 274.93 L66.34 276.35 L66.75 277.76 L67.17 279.12 L67.58 280.4 L67.99 281.63 L68.4 282.84 L68.82 284 L69.23 285.11 L69.64 286.16 L70.05 287.14 L70.47 288.06 L70.88 288.94 L71.29 289.77 L71.7 290.58 L72.12 291.36 L72.53 292.11 L72.94 292.85 L73.35 293.57 L73.77 294.3 L74.18 295.02 L74.59 295.73 L75 296.43 L75.42 297.1 L75.83 297.74 L76.24 298.34 L76.66 298.9 L77.07 299.4 L77.48 299.86 L77.89 300.31 L78.31 300.73 L78.72 301.13 L79.13 301.52 L79.54 301.9 L79.96 302.25 L80.37 302.59 L80.78 302.92 L81.19 303.24 L81.61 303.54 L82.02 303.82 L82.43 304.1 L82.84 304.37 L83.26 304.62 L83.67 304.88 L84.08 305.12 L84.49 305.36 L84.91 305.6 L85.32 305.82 L85.73 306.04 L86.15 306.25 L86.56 306.45 L86.97 306.65 L87.38 306.83 L87.8 307.01 L88.21 307.18 L88.62 307.33 L89.03 307.48 L89.45 307.62 L89.86 307.76 L90.27 307.89 L90.68 308.02 L91.1 308.15 L91.51 308.27 L91.92 308.4 L92.33 308.52 L92.75 308.63 L93.16 308.75 L93.57 308.86 L93.98 308.96 L94.4 309.07 L94.81 309.17 L95.22 309.26 L95.63 309.36 L96.05 309.45 L96.46 309.53 L96.87 309.61 L97.29 309.69 L97.7 309.76 L98.11 309.83 L98.52 309.9 L98.94 309.96 L99.35 310.01 L99.76 310.06 L100.17 310.11 L100.59 310.16 L101 310.21 L101.41 310.25 L101.82 310.3 L102.24 310.34 L102.65 310.38 L103.06 310.43 L103.47 310.47 L103.89 310.51 L104.3 310.54 L104.71 310.58 L105.12 310.62 L105.54 310.65 L105.95 310.68 L106.36 310.72 L106.78 310.75 L107.19 310.78 L107.6 310.81 L108.01 310.83 L108.43 310.86 L108.84 310.88 L109.25 310.91 L109.66 310.93 L110.08 310.95 L110.49 310.97 L110.9 310.99 L111.31 311.01 L111.73 311.02 L112.14 311.04 L112.55 311.05 L112.96 311.07 L113.38 311.08 L113.79 311.1 L114.2 311.11 L114.61 311.12 L115.03 311.14 L115.44 311.15 L115.85 311.16 L116.26 311.18 L116.68 311.19 L117.09 311.2 L117.5 311.21 L117.92 311.23 L118.33 311.24 L118.74 311.25 L119.15 311.26 L119.57 311.27 L119.98 311.28 L120.39 311.29 L120.8 311.3 L121.22 311.31 L121.63 311.32 L122.04 311.32 L122.45 311.33 L122.87 311.34 L123.28 311.34 L123.69 311.35 L124.1 311.35 L124.52 311.36 L124.93 311.36 L125.34 311.37 L125.75 311.37 L126.17 311.37 L126.58 311.37 L126.99 311.37 L127.41 311.38 L127.82 311.38 L128.23 311.38 L128.64 311.38 L129.06 311.38 L129.47 311.38 L129.88 311.38 L130.29 311.38 L130.71 311.38 L131.12 311.38 L131.53 311.38 L131.94 311.38 L132.36 311.38 L132.77 311.38 L133.18 311.38 L133.59 311.38 L134.01 311.38 L134.42 311.38 L134.83 311.38 L135.24 311.38 L135.66 311.38 L136.07 311.38 L136.48 311.38 L136.89 311.38 L137.31 311.38 L137.72 311.38 L158.35 311.38 L261.5 311.38" fill="none" stroke="#000" stroke-width="3.0" stroke-linejoin="round" stroke-dasharray="2.5 1.92" stroke-dashoffset="0.72"/>
<text x="54.8" y="406.55" text-anchor="middle" font-size="13.2">0</text>
<text x="106.38" y="406.55" text-anchor="middle" font-size="13.2">5</text>
<text x="157.95" y="406.55" text-anchor="middle" font-size="13.2">10</text>
<text x="209.53" y="406.55" text-anchor="middle" font-size="13.2">15</text>
<text x="261.1" y="406.55" text-anchor="middle" font-size="13.2">20</text>
<text x="50.1" y="393.55" text-anchor="end" font-size="13.2">-40</text>
<text x="50.1" y="355.31" text-anchor="end" font-size="13.2">-20</text>
<text x="50.1" y="317.07" text-anchor="end" font-size="13.2">0</text>
<text x="50.1" y="278.84" text-anchor="end" font-size="13.2">20</text>
<text x="50.1" y="240.6" text-anchor="end" font-size="13.2">40</text>
<rect x="142.5" y="243.5" width="110.0" height="53.0" fill="#fff" stroke="#404040" stroke-width="1"/>
<path d="M147.2 253.6 H191.8" stroke="#ff0000" stroke-width="3.0" fill="none"/>
<text x="195.3" y="257.8" font-size="11.7">Actual</text>
<path d="M147.2 270 H191.8" stroke="#0000ff" stroke-width="3.0" fill="none" stroke-dasharray="9.3 8.35"/>
<text x="195.3" y="274.2" font-size="11.7">Estimated</text>
<path d="M147.2 286.3 H191.8" stroke="#000" stroke-width="3.0" fill="none" stroke-dasharray="2.5 1.92"/>
<text x="195.3" y="290.5" font-size="11.7">NMPC</text>
<g transform="translate(23.5 311.5) rotate(-90)" font-size="14.5" font-family='"Liberation Serif", serif' font-style="italic"><text x="-31.0" letter-spacing="1.15">ρ<tspan font-size="10" dy="2.5" font-style="normal">1</tspan><tspan dy="-2.5">(deg/s)</tspan></text><text x="-27.3" y="-9.2">.</text></g>
<text x="158" y="426.1" text-anchor="middle" font-size="14.3">time (s)</text>
<path d="M326.4 387.85 v-2.2 M326.4 234.9 v2.2 M378.17 387.85 v-2.2 M378.17 234.9 v2.2 M429.95 387.85 v-2.2 M429.95 234.9 v2.2 M481.73 387.85 v-2.2 M481.73 234.9 v2.2 M533.5 387.85 v-2.2 M533.5 234.9 v2.2 M326.4 387.85 h2.2 M533.5 387.85 h-2.2 M326.4 336.87 h2.2 M533.5 336.87 h-2.2 M326.4 285.88 h2.2 M533.5 285.88 h-2.2 M326.4 234.9 h2.2 M533.5 234.9 h-2.2 " stroke="#404040" stroke-width="1" fill="none"/>
<rect x="326.4" y="234.9" width="207.10000000000002" height="152.95000000000002" fill="none" stroke="#404040" stroke-width="1"/>
<path d="M326.9 234.9 L327.6 387.85" fill="none" stroke="#000" stroke-width="1" stroke-linejoin="round"/>
<path d="M326.9 234.9 L328 300 L328.2 386.3 L329.5 385.8 L331.5 386.3 L334 387.4 L335.5 387.85 L533.9 387.85" fill="none" stroke="#ff0000" stroke-width="3.0" stroke-linejoin="round"/>
<text x="326.4" y="406.55" text-anchor="middle" font-size="13.2">0</text>
<text x="378.17" y="406.55" text-anchor="middle" font-size="13.2">5</text>
<text x="429.95" y="406.55" text-anchor="middle" font-size="13.2">10</text>
<text x="481.73" y="406.55" text-anchor="middle" font-size="13.2">15</text>
<text x="533.5" y="406.55" text-anchor="middle" font-size="13.2">20</text>
<text x="321.7" y="393.55" text-anchor="end" font-size="13.2">0</text>
<text x="321.7" y="342.57" text-anchor="end" font-size="13.2">10</text>
<text x="321.7" y="291.58" text-anchor="end" font-size="13.2">20</text>
<text x="321.7" y="240.6" text-anchor="end" font-size="13.2">30</text>
<g transform="translate(299.5 311.6) rotate(-90)" font-size="14.5" font-family='"Liberation Serif", serif'><text x="-91.2" letter-spacing="0.6" word-spacing="-1">estimation error of <tspan font-style="italic" letter-spacing="1.15">ρ</tspan><tspan font-size="10" dy="2.5" letter-spacing="1.15">1</tspan><tspan dy="-2.5" font-style="italic" letter-spacing="1.15">(deg/s)</tspan></text><text x="31.2" y="-9.2" font-style="italic">.</text></g>
<text x="430" y="423.2" text-anchor="middle" font-size="14.5" font-family='"Liberation Serif", serif' letter-spacing="0.8">time (s)</text>
</svg>
</body></html>
